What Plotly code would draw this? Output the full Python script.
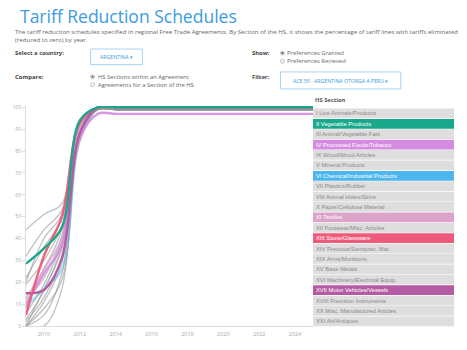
import plotly.graph_objects as go

years = list(range(2009, 2026))

sections = [
    "I Live Animals/Products", "II Vegetable Products", "III Animal/Vegetable Fats",
    "IV Processed Foods/Tobacco", "IX Wood/Wood Articles", "V Mineral Products",
    "VI Chemical/Industrial Products", "VII Plastics/Rubber", "VIII Animal Hides/Skins",
    "X Paper/Cellulose Material", "XI Textiles", "XII Footwear/Misc. Articles",
    "XIII Stone/Glassware", "XIV Precious/Semiprec. Mat.", "XIX Arms/Munitions",
    "XV Base Metals", "XVI Machinery/Electrical Equip.", "XVII Motor Vehicles/Vessels",
    "XVIII Precision Instruments", "XX Misc. Manufactured Articles", "XXI Art/Antiques",
]

values = [
    [44, 51, 56, 94, 99, 99, 99, 99, 99, 99, 99, 99, 99, 99, 99, 99, 99],
    [28.5, 35.5, 45, 94, 100, 100, 100, 100, 100, 100, 100, 100, 100, 100, 100, 100, 100],
    [32, 44, 53, 93, 99, 99, 99, 99, 99, 99, 99, 99, 99, 99, 99, 99, 99],
    [10, 24, 37, 86, 97, 97, 97, 97, 97, 97, 97, 97, 97, 97, 97, 97, 97],
    [0, 0, 17, 84, 99, 99, 99, 99, 99, 99, 99, 99, 99, 99, 99, 99, 99],
    [22, 36, 49, 92, 99, 99, 99, 99, 99, 99, 99, 99, 99, 99, 99, 99, 99],
    [9, 17, 26, 87, 100, 100, 100, 100, 100, 100, 100, 100, 100, 100, 100, 100, 100],
    [19, 30, 46, 91, 99, 99, 99, 99, 99, 99, 99, 99, 99, 99, 99, 99, 99],
    [13, 26, 44, 91, 100, 100, 100, 100, 100, 100, 100, 100, 100, 100, 100, 100, 100],
    [12, 22, 41, 90, 99, 99, 99, 99, 99, 99, 99, 99, 99, 99, 99, 99, 99],
    [8, 26, 40, 90, 100, 100, 100, 100, 100, 100, 100, 100, 100, 100, 100, 100, 100],
    [6, 19, 39, 89, 99, 99, 99, 99, 99, 99, 99, 99, 99, 99, 99, 99, 99],
    [5, 32, 50, 93, 100, 100, 100, 100, 100, 100, 100, 100, 100, 100, 100, 100, 100],
    [3, 16, 37, 89, 99, 99, 99, 99, 99, 99, 99, 99, 99, 99, 99, 99, 99],
    [0, 8, 21, 86, 99, 99, 99, 99, 99, 99, 99, 99, 99, 99, 99, 99, 99],
    [2, 13, 31, 88, 99, 99, 99, 99, 99, 99, 99, 99, 99, 99, 99, 99, 99],
    [0, 5, 24, 86, 99, 99, 99, 99, 99, 99, 99, 99, 99, 99, 99, 99, 99],
    [15, 16.5, 31, 88, 100, 100, 100, 100, 100, 100, 100, 100, 100, 100, 100, 100, 100],
    [0, 17, 35, 89, 99, 99, 99, 99, 99, 99, 99, 99, 99, 99, 99, 99, 99],
    [0, 11, 29, 88, 99, 99, 99, 99, 99, 99, 99, 99, 99, 99, 99, 99, 99],
    [20, 40, 51, 93, 100, 100, 100, 100, 100, 100, 100, 100, 100, 100, 100, 100, 100],
]

highlight = {
    "II Vegetable Products": "#19a98a",
    "IV Processed Foods/Tobacco": "#d68be2",
    "VI Chemical/Industrial Products": "#4cb6ee",
    "XI Textiles": "#dda4cb",
    "XIII Stone/Glassware": "#ef5a7c",
    "XVII Motor Vehicles/Vessels": "#b45ba3",
}
line_opacity = {
    "II Vegetable Products": 1.0,
    "IV Processed Foods/Tobacco": 0.9,
    "VI Chemical/Industrial Products": 0.45,
    "XI Textiles": 0.7,
    "XIII Stone/Glassware": 0.95,
    "XVII Motor Vehicles/Vessels": 1.0,
}

W, H = 467, 350
ML, MR, MT, MB = 22, 154, 106, 18
PW, PH = W - ML - MR, H - MT - MB


def fx(px):
    return (px - ML) / PW


def fy(py):
    return (H - MB - py) / PH


fig = go.Figure()

for name, vals in zip(sections, values):
    if name in highlight:
        continue
    fig.add_trace(go.Scatter(
        x=years, y=vals, mode="lines", name=name,
        line=dict(color="rgba(150,150,150,0.6)", width=1.3, shape="spline", smoothing=1),
        showlegend=False, hoverinfo="skip"))

draw_order = ["XI Textiles", "VI Chemical/Industrial Products", "IV Processed Foods/Tobacco",
              "XVII Motor Vehicles/Vessels", "XIII Stone/Glassware", "II Vegetable Products"]
for name in draw_order:
    vals = values[sections.index(name)]
    fig.add_trace(go.Scatter(
        x=years, y=vals, mode="lines", name=name,
        line=dict(color=highlight[name], width=2.4, shape="spline", smoothing=1),
        opacity=line_opacity[name], showlegend=False, hoverinfo="skip"))

shapes = []
annotations = []


def text(t, px, py, size, color, anchor="left", bold=False, family="Open Sans", yanchor="middle"):
    if bold:
        t = "<b>" + t + "</b>"
    annotations.append(dict(
        text=t, x=fx(px), y=fy(py), xref="paper", yref="paper",
        xanchor=anchor, yanchor=yanchor, showarrow=False, align="left",
        font=dict(size=size, color=color, family=family), borderpad=0))


text("Tariff Reduction Schedules", 15, 13.3, 17.5, "#3d9be0")
text("The tariff reduction schedules specified in regional Free Trade Agreements. By Section of the HS, it shows the percentage of tariff lines with tariffs eliminated"
     "<br>(reduced to zero) by year.",
     9.5, 33.5, 6.1, "#666666")

text("Select a country:", 10, 52, 5.9, "#444444", bold=True)
text("Compare:", 10, 76, 5.9, "#444444", bold=True)
text("Show:", 250, 52, 5.9, "#444444", bold=True)
text("Filter:", 250, 76, 5.9, "#444444", bold=True)

shapes.append(dict(type="rect", xref="paper", yref="paper",
                   x0=fx(87.5), x1=fx(140), y0=fy(47.5), y1=fy(63.5),
                   line=dict(color="#a8d3f2", width=1), fillcolor="white", layer="above"))
text("ARGENTINA ▾", 113.5, 55.5, 5.2, "#3d9be0", anchor="center")

shapes.append(dict(type="rect", xref="paper", yref="paper",
                   x0=fx(280), x1=fx(402), y0=fy(71), y1=fy(88.5),
                   line=dict(color="#a8d3f2", width=1), fillcolor="white", layer="above"))
text("ACE 58 - ARGENTINA OTORGA A PERU ▾", 341, 80, 5.2, "#3d9be0", anchor="center")


def radio(px, py, selected):
    r = 2.2
    shapes.append(dict(type="circle", xref="paper", yref="paper",
                       x0=fx(px - r), x1=fx(px + r), y0=fy(py + r), y1=fy(py - r),
                       line=dict(color="#bbbbbb", width=0.7), fillcolor="#eeeeee", layer="above"))
    if selected:
        r2 = 1.1
        shapes.append(dict(type="circle", xref="paper", yref="paper",
                           x0=fx(px - r2), x1=fx(px + r2), y0=fy(py + r2), y1=fy(py - r2),
                           line=dict(width=0), fillcolor="#555555", layer="above"))


radio(89.5, 76, True)
text("HS Sections within an Agreement", 93.5, 76, 5.9, "#666666")
radio(89.5, 84, False)
text("Agreements for a Section of the HS", 93.5, 84, 5.9, "#666666")
radio(282, 51.7, True)
text("Preferences Granted", 286, 51.7, 5.9, "#666666")
radio(282, 60, False)
text("Preferences Recieved", 286, 60, 5.9, "#666666")

text("HS Section", 314, 100, 5.8, "#555555", bold=True)
row_top0 = 108.6
row_step = 10.68
row_h = 10.0
for i, name in enumerate(sections):
    top = row_top0 + i * row_step
    color = highlight.get(name, "#dedede")
    shapes.append(dict(type="rect", xref="paper", yref="paper",
                       x0=fx(313), x1=fx(456), y0=fy(top + row_h), y1=fy(top),
                       line=dict(width=0), fillcolor=color, layer="above"))
    tcolor = "white" if name in highlight else "#8a8a8a"
    text(name, 315, top + row_h / 2, 5.8, tcolor, family="Liberation Sans")

fig.update_layout(
    width=W, height=H,
    margin=dict(l=ML, r=MR, t=MT, b=MB, pad=0),
    paper_bgcolor="white", plot_bgcolor="white",
    shapes=shapes, annotations=annotations,
    showlegend=False,
    font=dict(family="Open Sans", size=5.5, color="#aaaaaa"),
    xaxis=dict(range=[2009, 2025], tickvals=list(range(2010, 2025, 2)),
               showgrid=False, zeroline=False, showline=True, linecolor="#dddddd",
               linewidth=1, ticks="outside", ticklen=2, tickcolor="white",
               tickfont=dict(size=5.5, color="#aaaaaa")),
    yaxis=dict(range=[0, 100.6], tickvals=list(range(0, 101, 10)),
               showgrid=False, zeroline=False, showline=True, linecolor="#dddddd",
               linewidth=1, ticks="outside", ticklen=3, tickcolor="#dddddd",
               tickfont=dict(size=5, color="#aaaaaa")),
)

fig.write_html("out.html")
